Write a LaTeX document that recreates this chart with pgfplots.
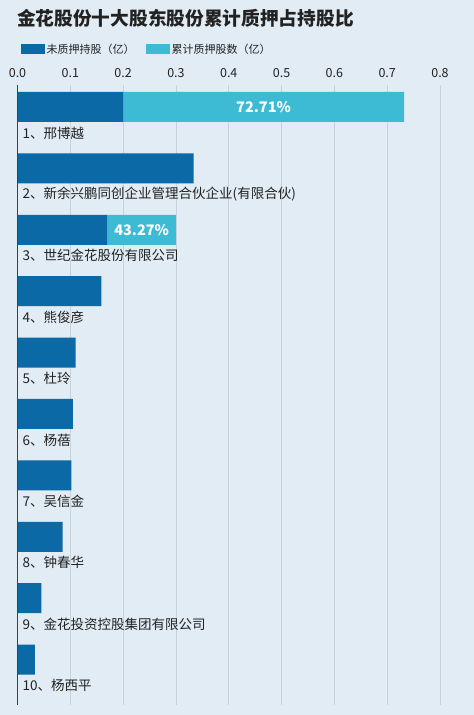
\documentclass[border=0pt]{standalone}
\usepackage{fontspec}
\setmainfont{Noto Sans CJK SC}
\usepackage{pgfplots}
\usepackage{pgfplotstable}
\pgfplotsset{compat=1.18}
\definecolor{bg}{HTML}{E1ECF4}
\definecolor{darkb}{HTML}{0B69A6}
\definecolor{lightb}{HTML}{3DBBD4}
\definecolor{gridc}{HTML}{C8D2DA}
\definecolor{txt}{HTML}{222222}
\pgfplotstableread{
idx unpledged pledged
1  0.1998 0.5322
2  0.3336 0
3  0.1702 0.1298
4  0.159  0
5  0.110  0
6  0.105  0
7  0.102  0
8  0.0855 0
9  0.045  0
10 0.033  0
}\shareholders
\begin{document}
\begin{tikzpicture}
\fill[bg] (0bp,0bp) rectangle (474bp,715bp);
\useasboundingbox (0bp,0bp) rectangle (474bp,715bp);
\node[anchor=west,inner sep=0pt,font=\fontsize{18.7bp}{22bp}\selectfont\bfseries,text=txt] at (17bp,697bp) {金花股份十大股东股份累计质押占持股比};
\begin{axis}[
  at={(17.5bp,10bp)}, anchor=south west,
  scale only axis, width=422.5bp, height=620bp,
  xbar stacked, bar width=30bp,
  xmin=0, xmax=0.8, ymin=0.642, ymax=10.74,
  y dir=reverse,
  axis line style={draw=none},
  ytick=\empty,
  xtick={0,0.1,0.2,0.3,0.4,0.5,0.6,0.7,0.8},
  xticklabel pos=top,
  major tick length=0pt,
  xmajorgrids, grid style={gridc, line width=0.6bp},
  xticklabel style={anchor=center, yshift=12bp, font=\fontsize{12.5bp}{14bp}\selectfont, text=txt,
    /pgf/number format/fixed, /pgf/number format/fixed zerofill, /pgf/number format/precision=1,
    /pgf/number format/assume math mode=true},
  legend columns=2,
  legend style={at={(0.0083,1.058)}, anchor=west, draw=none, fill=none, inner sep=0pt,
    font=\fontsize{11bp}{13bp}\selectfont,
    nodes={inner sep=1.5bp, text=txt},
    /tikz/every even column/.append style={column sep=10bp}},
  legend image code/.code={\fill[#1] (0bp,-5bp) rectangle (24bp,5bp);},
  clip=false,
]
\addplot[fill=darkb, draw=none] table[x=unpledged, y=idx] {\shareholders};
\addplot[fill=lightb, draw=none] table[x=pledged, y=idx] {\shareholders};
\legend{未质押持股（亿）,累计质押股数（亿）}
\coordinate (p1) at (axis cs:0.4659,1);
\coordinate (p3) at (axis cs:0.2351,3);
\coordinate (ytop) at (axis cs:0,0.642);
\coordinate (ybot) at (axis cs:0,10.74);
\coordinate (c1) at (axis cs:0,1);
\coordinate (c2) at (axis cs:0,2);
\coordinate (c3) at (axis cs:0,3);
\coordinate (c4) at (axis cs:0,4);
\coordinate (c5) at (axis cs:0,5);
\coordinate (c6) at (axis cs:0,6);
\coordinate (c7) at (axis cs:0,7);
\coordinate (c8) at (axis cs:0,8);
\coordinate (c9) at (axis cs:0,9);
\coordinate (c10) at (axis cs:0,10);
\end{axis}
\draw[black!75, line width=1.3bp] (ytop) -- (ybot);
\node[text=white,font=\fontsize{14.5bp}{16bp}\selectfont\bfseries] at (p1) {72.71\%};
\node[text=white,font=\fontsize{14.5bp}{16bp}\selectfont\bfseries] at (p3) {43.27\%};
\begin{scope}[every node/.style={anchor=west, inner sep=0pt, xshift=5bp, yshift=-26bp, font=\fontsize{13.5bp}{15bp}\selectfont, text=txt}]
\node at (c1) {1、邢博越};
\node at (c2) {2、新余兴鹏同创企业管理合伙企业(有限合伙)};
\node at (c3) {3、世纪金花股份有限公司};
\node at (c4) {4、熊俊彦};
\node at (c5) {5、杜玲};
\node at (c6) {6、杨蓓};
\node at (c7) {7、吴信金};
\node at (c8) {8、钟春华};
\node at (c9) {9、金花投资控股集团有限公司};
\node at (c10) {10、杨西平};
\end{scope}
\end{tikzpicture}
\end{document}
